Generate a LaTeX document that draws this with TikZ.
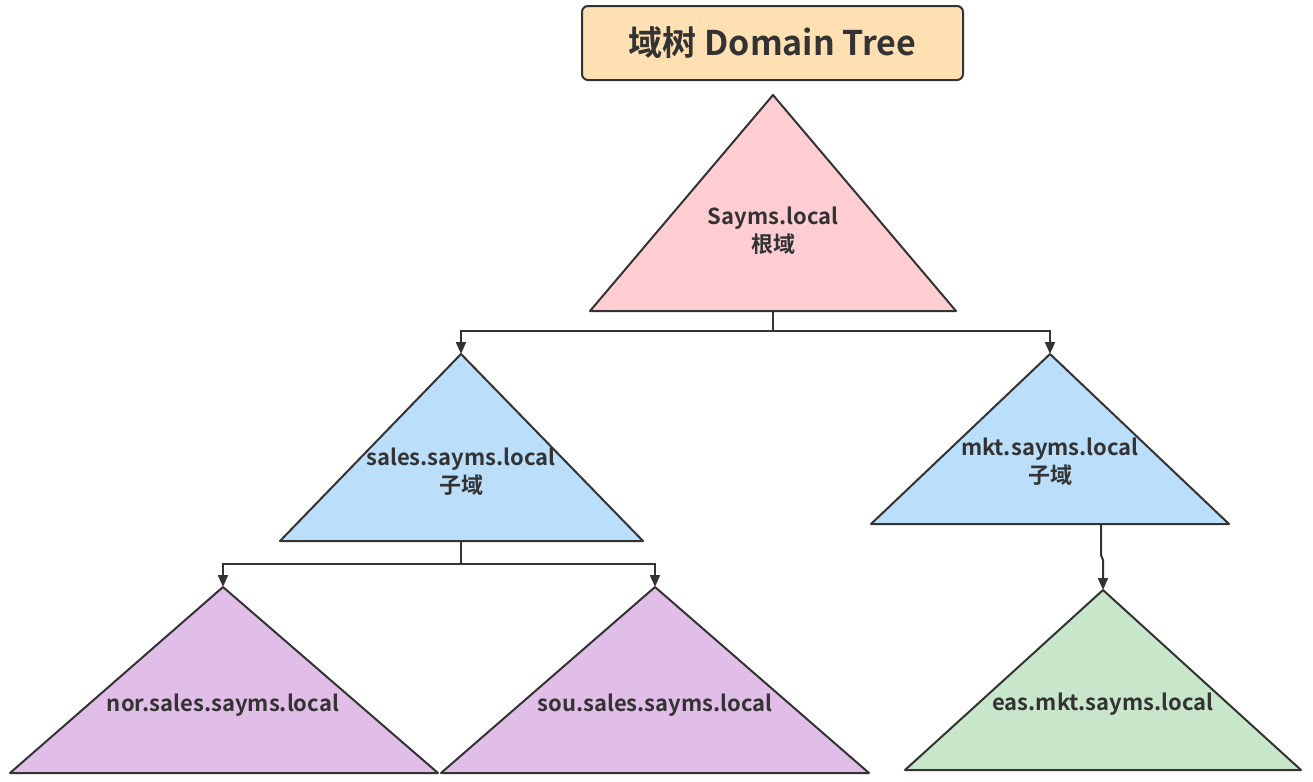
\documentclass[tikz,border=0pt]{standalone}
\usepackage{fontspec}
\setmainfont{Noto Sans CJK SC}[BoldFont={* Bold}]
\usetikzlibrary{arrows.meta}
\definecolor{ln}{HTML}{333333}
\definecolor{tt}{HTML}{FFE0B2}
\definecolor{pk}{HTML}{FFCDD2}
\definecolor{bl}{HTML}{BBDEFB}
\definecolor{pu}{HTML}{E1BEE7}
\definecolor{gr}{HTML}{C8E6C9}
\begin{document}
\begin{tikzpicture}[x=0.5pt,y=-0.5pt,line width=1pt,
  tri/.style={draw=ln,line join=round},
  lbl/.style={font=\bfseries\fontsize{11}{14}\selectfont,text=ln,align=center},
  conn/.style={draw=ln,-{Triangle[width=5pt,length=6pt]}}]
\useasboundingbox (0,0) rectangle (1313,782);
\node[draw=ln,fill=tt,rounded corners=3pt,minimum width=190.5pt,minimum height=37pt,font=\bfseries\fontsize{17}{20}\selectfont,text=ln] (title) at (772.5,43) {域树 Domain Tree};
% triangles
\filldraw[tri,fill=pk] (773,95) coordinate (ra) -- (956,311) -- (590,311) -- cycle;
\coordinate (rb) at (773,311);
\node[lbl] (rt) at (773,231) {Sayms.local\\根域};
\filldraw[tri,fill=bl] (461,354) coordinate (la) -- (643,541) -- (280,541) -- cycle;
\coordinate (lb) at (461,541);
\node[lbl] (lt) at (461,472) {sales.sayms.local\\子域};
\filldraw[tri,fill=bl] (1050,354) coordinate (ma) -- (1229,524) -- (871,524) -- cycle;
\coordinate (mb) at (1101,524);
\node[lbl] (mt) at (1050,462) {mkt.sayms.local\\子域};
\filldraw[tri,fill=pu] (223,587) coordinate (na) -- (438,773) -- (10,773) -- cycle;
\node[lbl] (nt) at (223,705) {nor.sales.sayms.local};
\filldraw[tri,fill=pu] (655,587) coordinate (sa) -- (869,773) -- (441,773) -- cycle;
\node[lbl] (st) at (655,705) {sou.sales.sayms.local};
\filldraw[tri,fill=gr] (1103,590) coordinate (ea) -- (1301,770) -- (905,770) -- cycle;
\node[lbl] (et) at (1103,704) {eas.mkt.sayms.local};
% connectors
\draw[conn] (rb) -- (773,331) -| (la);
\draw[conn] (rb) -- (773,331) -| (ma);
\draw[conn] (lb) -- (461,564) -| (na);
\draw[conn] (lb) -- (461,564) -| (sa);
\draw[conn] (mb) -- (1101,555) -- (1103,560) -- (ea);
\end{tikzpicture}
\end{document}
